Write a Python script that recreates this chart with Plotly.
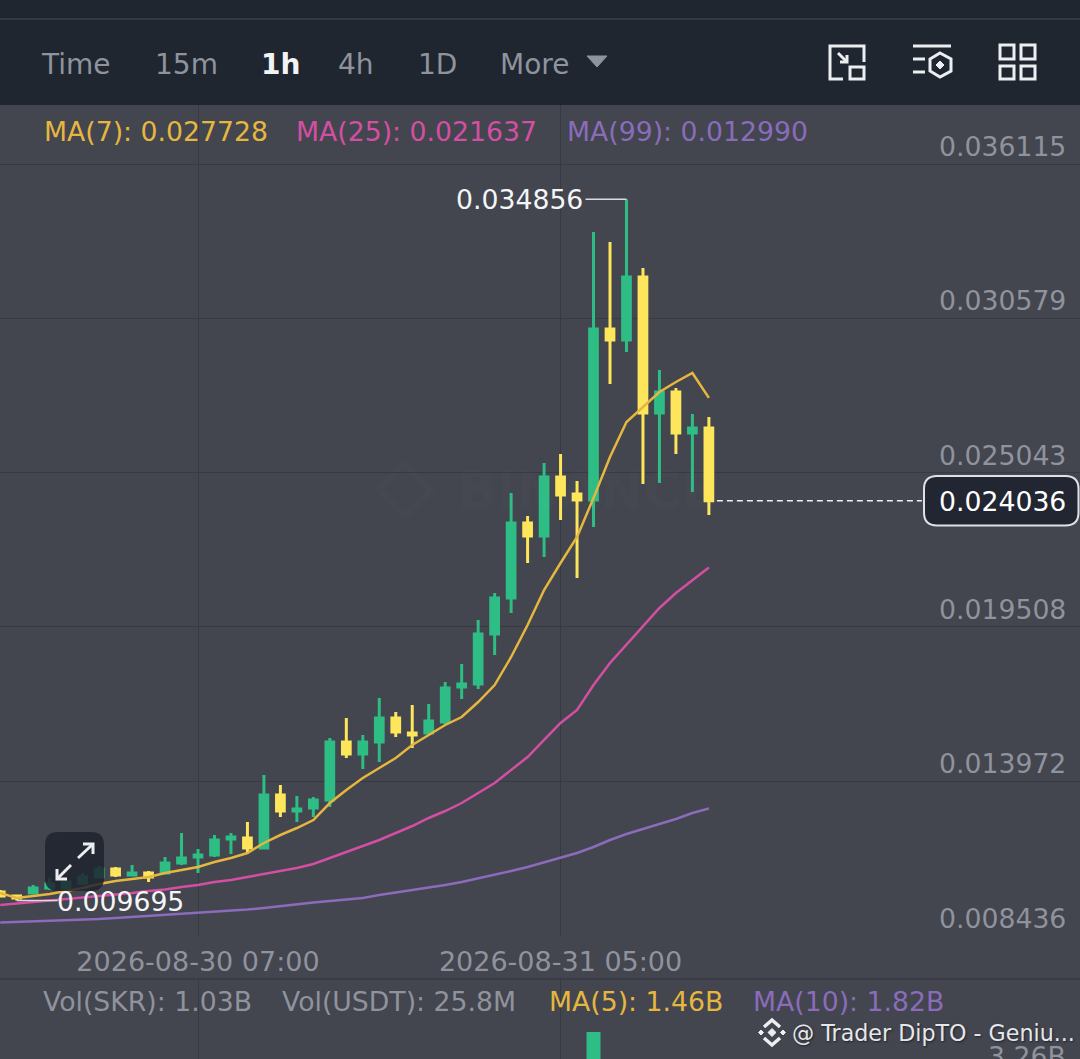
import pandas as pd
import plotly.graph_objects as go

# ======================
# DATA
# ======================
first_candle = "2026-08-29 19:00"
opens = [0.009997, 0.009854, 0.009961, 0.010141, 0.010141, 0.010320, 0.010535, 0.010823, 0.010607, 0.010679, 0.010679,
         0.011038, 0.011253, 0.011325, 0.011899, 0.011935, 0.011576, 0.013477, 0.012903, 0.013011, 0.013298, 0.015379,
         0.014948, 0.015379, 0.016240, 0.015702, 0.015702, 0.016097, 0.017352, 0.017460, 0.019254, 0.020546, 0.023237,
         0.022770, 0.024887, 0.024277, 0.024062, 0.030197, 0.029803, 0.032063, 0.027184, 0.027937, 0.026466, 0.026645]
highs = [0.010069, 0.009889, 0.010248, 0.010499, 0.010499, 0.010679, 0.010930, 0.010894, 0.010966, 0.010751, 0.011253,
         0.012114, 0.011540, 0.012042, 0.012114, 0.012509, 0.014195, 0.013836, 0.013442, 0.013406, 0.015523, 0.016240,
         0.015630, 0.016958, 0.016455, 0.016707, 0.016742, 0.017532, 0.018178, 0.019756, 0.020725, 0.024313, 0.023488,
         0.025390, 0.025712, 0.024744, 0.033678, 0.033319, 0.034856, 0.032386, 0.028726, 0.028081, 0.027148, 0.027040]
lows = [0.009818, 0.009695, 0.009961, 0.010069, 0.010105, 0.010248, 0.010499, 0.010535, 0.010607, 0.010356, 0.010679,
        0.010966, 0.010679, 0.011253, 0.011360, 0.011396, 0.011576, 0.012688, 0.012509, 0.012688, 0.013047, 0.014805,
        0.014410, 0.014661, 0.015558, 0.015164, 0.015666, 0.016025, 0.016922, 0.017281, 0.018501, 0.020008, 0.021802,
        0.022017, 0.023344, 0.021263, 0.023093, 0.028224, 0.029372, 0.024636, 0.024672, 0.025712, 0.024349, 0.023524]
closes = [0.009854, 0.009782, 0.010141, 0.010284, 0.010356, 0.010535, 0.010823, 0.010607, 0.010679, 0.010535, 0.011038,
          0.011217, 0.011325, 0.011863, 0.011970, 0.011576, 0.013477, 0.012903, 0.012975, 0.013298, 0.015379, 0.014948,
          0.015379, 0.016240, 0.015738, 0.015630, 0.016133, 0.017317, 0.017460, 0.019254, 0.020546, 0.023237, 0.022770,
          0.024887, 0.024241, 0.024062, 0.030197, 0.029803, 0.032063, 0.027184, 0.027937, 0.026466, 0.026645, 0.024036]

ma7 = [0.009961, 0.009782, 0.009854, 0.009925, 0.010033, 0.010141, 0.010284, 0.010392, 0.010463, 0.010535, 0.010679,
       0.010786, 0.010894, 0.011073, 0.011217, 0.011396, 0.011755, 0.012042, 0.012293, 0.012580, 0.013190, 0.013657,
       0.014087, 0.014446, 0.014805, 0.015271, 0.015630, 0.015989, 0.016276, 0.016814, 0.017424, 0.018429, 0.019577,
       0.020833, 0.021802, 0.022734, 0.024134, 0.025605, 0.026861, 0.027399, 0.027937, 0.028296, 0.028619, 0.027728]
ma25 = [0.009531, 0.009584, 0.009620, 0.009674, 0.009728, 0.009782, 0.009836, 0.009889, 0.009961, 0.010033, 0.010087,
        0.010176, 0.010248, 0.010356, 0.010428, 0.010535, 0.010643, 0.010751, 0.010858, 0.011002, 0.011217, 0.011432,
        0.011648, 0.011863, 0.012114, 0.012365, 0.012652, 0.012903, 0.013190, 0.013549, 0.013908, 0.014374, 0.014841,
        0.015451, 0.016061, 0.016527, 0.017424, 0.018214, 0.018859, 0.019505, 0.020187, 0.020725, 0.021192, 0.021637]
ma99 = [0.008903, 0.008921, 0.008939, 0.008957, 0.008974, 0.008992, 0.009028, 0.009064, 0.009100, 0.009136, 0.009172,
        0.009208, 0.009244, 0.009279, 0.009315, 0.009369, 0.009423, 0.009495, 0.009566, 0.009620, 0.009674, 0.009728,
        0.009782, 0.009889, 0.009979, 0.010051, 0.010141, 0.010248, 0.010356, 0.010481, 0.010607, 0.010751, 0.010894,
        0.011056, 0.011217, 0.011396, 0.011612, 0.011863, 0.012078, 0.012258, 0.012437, 0.012616, 0.012832, 0.012990]

price_ticks = [0.008436, 0.013972, 0.019508, 0.025043, 0.030579, 0.036115]
time_ticks = ["2026-08-30 07:00", "2026-08-31 05:00"]
vol_time = ["2026-08-31 07:00"]
vol_value = [3.26]

tabs = ["Time", "15m", "1h", "4h", "1D", "More"]

W, H = 1080, 1059
BG = "#43454f"
HEADER = "#1f2630"
GRID = "#373943"
MUTED = "#8f939d"
GREEN = "#2ebd85"
YELLOW = "#fde65b"
GOLD = "#e5b73f"
PINK = "#d34fa3"
PURPLE = "#8a6cba"
WHITE = "#eceef1"
FONT = "DejaVu Sans"


def px(x):
    return x / W


def py(y):
    return 1 - y / H


def price_at(y):
    # chart scale
    return 0.042002 - 0.00003588 * y


def poly(points, color=WHITE, width=3, close=False, fill=None, layer="above"):
    d = "M " + " L ".join(f"{px(a):.5f} {py(b):.5f}" for a, b in points)
    if close:
        d += " Z"
    return dict(type="path", path=d, xref="paper", yref="paper", layer=layer,
                line=dict(color=color, width=width), fillcolor=fill)


def round_rect(x0, y0, x1, y1, r, fill, color=None, width=0):
    c = lambda a, b: f"{px(a):.5f} {py(b):.5f}"
    d = (f"M {c(x0 + r, y0)} L {c(x1 - r, y0)} Q {c(x1, y0)} {c(x1, y0 + r)} "
         f"L {c(x1, y1 - r)} Q {c(x1, y1)} {c(x1 - r, y1)} "
         f"L {c(x0 + r, y1)} Q {c(x0, y1)} {c(x0, y1 - r)} "
         f"L {c(x0, y0 + r)} Q {c(x0, y0)} {c(x0 + r, y0)} Z")
    return dict(type="path", path=d, xref="paper", yref="paper", layer="above",
                fillcolor=fill, line=dict(color=color or fill, width=width))


def rect(x0, y0, x1, y1, fill, layer="below"):
    return dict(type="rect", xref="paper", yref="paper", x0=px(x0), x1=px(x1), y0=py(y0), y1=py(y1),
                fillcolor=fill, line=dict(width=0), layer=layer)


def hline(y, color, x0=0, x1=W):
    return dict(type="line", xref="paper", yref="paper", x0=px(x0), x1=px(x1), y0=py(y), y1=py(y),
                line=dict(color=color, width=1.5), layer="below")


def label(x, y, text, color=MUTED, size=26.7, anchor="left", weight=None, family=FONT, shadow=None):
    return dict(x=px(x), y=py(y), xref="paper", yref="paper", text=text, showarrow=False,
                xanchor=anchor, yanchor="middle",
                font=dict(family=family, size=size, color=color, weight=weight, shadow=shadow))


times = pd.date_range(first_candle, periods=len(opens), freq="h")

# ======================
# PLOT
# ======================
fig = go.Figure()

fig.add_trace(go.Candlestick(
    x=times, open=opens, high=highs, low=lows, close=closes,
    increasing=dict(line=dict(color=GREEN, width=3), fillcolor=GREEN),
    decreasing=dict(line=dict(color=YELLOW, width=3), fillcolor=YELLOW),
    whiskerwidth=0,
    name="SKR"
))
for series, color, name in [(ma99, PURPLE, "MA(99)"), (ma25, PINK, "MA(25)"), (ma7, GOLD, "MA(7)")]:
    fig.add_trace(go.Scatter(x=times, y=series, mode="lines", name=name, line=dict(color=color, width=2.5)))

fig.add_trace(go.Bar(x=vol_time, y=vol_value, xaxis="x2", yaxis="y2", marker=dict(color=GREEN, line=dict(width=0)),
                     width=3058000, name="Vol"))

# header and panel chrome
shapes = [
    rect(0, 0, W, 105, HEADER),
    hline(19, "#3a404a"),
    hline(979, GRID),
]

# price marks
peak = max(highs)
trough = min(lows)
peak_time = times[highs.index(peak)]
trough_time = times[lows.index(trough)]
last_time = times[-1]
shapes += [
    dict(type="line", xref="x", yref="y", xsizemode="pixel", xanchor=peak_time, x0=-41, x1=0, y0=peak, y1=peak,
         line=dict(color="#d9dbe0", width=1.5)),
    dict(type="line", xref="x", yref="y", xsizemode="pixel", xanchor=trough_time, x0=0, x1=41, y0=trough, y1=trough,
         line=dict(color="#d9dbe0", width=1.5)),
    dict(type="line", xref="x", yref="y", xsizemode="pixel", xanchor=last_time, x0=8, x1=213,
         y0=closes[-1], y1=closes[-1], line=dict(color=WHITE, width=1.5, dash="6px,4px")),
    round_rect(924, 476, 1078.5, 525.5, 13, "#212632", "#dfe1e6", 2),
]

# fullscreen button over the candles
shapes += [
    round_rect(45, 832, 104, 891, 13, "rgba(31,36,46,0.86)"),
    poly([(78, 858), (93, 844)]),
    poly([(83, 844), (93, 844), (93, 854)]),
    poly([(71, 865), (57, 879)]),
    poly([(57, 869), (57, 879), (67, 879)]),
]

# header icons
shapes += [
    poly([(843, 79), (830, 79), (830, 46), (864, 46), (864, 62)]),
    poly([(850, 67), (864, 67), (864, 79), (850, 79)], close=True),
    poly([(838, 53), (847, 62)]),
    poly([(847, 55), (847, 62), (840, 62)]),
    poly([(913, 46), (951, 46)]),
    poly([(913, 59), (925, 59)]),
    poly([(913, 72), (925, 72)]),
    poly([(940, 53), (951, 59), (951, 71), (940, 77), (930, 71), (930, 59)], close=True),
    poly([(940, 61), (944, 65), (940, 69), (936, 65)], width=1, close=True, fill=WHITE),
    poly([(587, 56), (607, 56), (597, 67)], color=MUTED, width=1, close=True, fill=MUTED),
]
for x0, x1 in [(1000, 1014), (1021, 1035)]:
    for y0, y1 in [(45, 59), (66, 79)]:
        shapes.append(poly([(x0, y0), (x1, y0), (x1, y1), (x0, y1)], close=True))

# watermark logo next to the credit
shapes += [
    poly([(764, 1027), (772, 1020), (780, 1027)], width=3.5),
    poly([(764, 1038), (772, 1045), (780, 1038)], width=3.5),
]
for cx, r in [(761, 2.5), (783, 2.5), (772, 4)]:
    shapes.append(poly([(cx, 1032.5 - r), (cx + r, 1032.5), (cx, 1032.5 + r), (cx - r, 1032.5)], width=1, close=True,
                       fill=WHITE))
# faint brand mark behind the candles
shapes.append(poly([(405, 464), (431, 490), (405, 516), (379, 490)], color="rgba(255,255,255,0.012)", width=6,
                   close=True, layer="below"))

annotations = []
tab_x = [39, 153, 259, 336, 416, 498]
for name, x in zip(tabs, tab_x):
    active = name == "1h"
    annotations.append(label(x, 64, name, color="#f2f3f5" if active else MUTED, size=28,
                             weight=600 if active else None))

annotations += [
    label(42, 132, "MA(7): 0.027728", GOLD),
    label(294, 132, "MA(25): 0.021637", PINK),
    label(565, 132, "MA(99): 0.012990", PURPLE),
    label(41, 1001, "Vol(SKR): 1.03B", MUTED),
    label(280, 1001, "Vol(USDT): 25.8M", MUTED),
    label(547, 1001, "MA(5): 1.46B", GOLD),
    label(751, 1001, "MA(10): 1.82B", PURPLE),
    label(1068, 1056, "3.26B", MUTED, 26.7, "right"),
    label(790, 1033, "@ Trader DipTO - Geniu...", "#e6e7ea", 22.2, shadow="1px 1px 2px #20242c"),
    label(455, 490, "BINANCE", "rgba(255,255,255,0.012)", 52, weight=700),
    label(1068, 501, f"{closes[-1]:.6f}", "#ffffff", 26.7, "right"),
]
for tick in price_ticks:
    annotations.append(dict(x=px(1068), y=tick, xref="paper", yref="y", text=f"{tick:.6f}", showarrow=False,
                            xanchor="right", yanchor="bottom",
                            font=dict(family=FONT, size=26.7, color=MUTED)))
annotations.append(dict(x=peak_time, y=peak, xref="x", yref="y", text=f"{peak:.6f}", showarrow=False,
                        xanchor="right", yanchor="middle", xshift=-41,
                        font=dict(family=FONT, size=26.7, color="#f4f5f7")))
annotations.append(dict(x=trough_time, y=trough, xref="x", yref="y", text=f"{trough:.6f}", showarrow=False,
                        xanchor="left", yanchor="middle", xshift=38, yshift=-1,
                        font=dict(family=FONT, size=26.7, color="#f4f5f7")))

fig.update_layout(
    width=W, height=H,
    margin=dict(l=0, r=0, t=0, b=0),
    paper_bgcolor=BG, plot_bgcolor=BG,
    showlegend=False,
    boxgap=0.33,
    shapes=shapes,
    annotations=annotations,
    xaxis=dict(
        domain=[0, 1],
        range=["2026-08-29 18:59:08", "2026-09-01 12:31:08"],
        rangeslider=dict(visible=False),
        tickmode="array", tickvals=time_ticks, ticktext=time_ticks,
        tickfont=dict(family=FONT, size=27, color=MUTED),
        showgrid=True, gridcolor=GRID, gridwidth=1,
        ticks="outside", ticklen=2, tickcolor="rgba(0,0,0,0)",
        showline=False, zeroline=False, anchor="y",
    ),
    yaxis=dict(
        domain=[py(936), py(105)],
        range=[price_at(936), price_at(105)],
        tickmode="array", tickvals=price_ticks,
        showticklabels=False,
        showgrid=True, gridcolor=GRID, gridwidth=1,
        zeroline=False, showline=False,
    ),
    xaxis2=dict(
        domain=[0, 1], matches="x", anchor="y2",
        tickmode="array", tickvals=time_ticks, showticklabels=False,
        showgrid=True, gridcolor=GRID, gridwidth=1, zeroline=False,
    ),
    yaxis2=dict(
        domain=[0, py(979)],
        range=[2.5, 4.75],
        showticklabels=False, showgrid=False, zeroline=False,
    ),
)

fig.write_html("out.html", config=dict(displayModeBar=False),
               post_script="document.body.style.margin='0';document.body.style.overflow='hidden';")
